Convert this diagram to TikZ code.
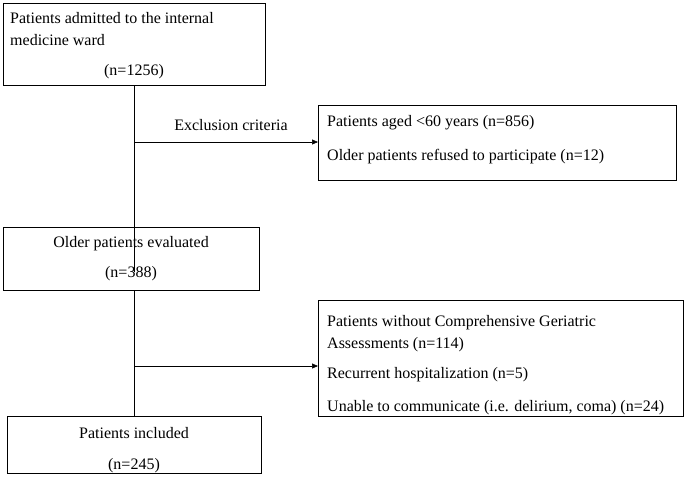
\documentclass[tikz,border=0pt]{standalone}
\usepackage{fontspec}
\setmainfont{Liberation Serif}
\usetikzlibrary{arrows.meta}
\begin{document}
\begin{tikzpicture}[x=1pt,y=-1pt,
  box/.style={draw,line width=0.6pt},
  txt/.style={font=\fontsize{16}{19}\selectfont,inner sep=0pt,anchor=base},
  ltxt/.style={txt,anchor=base west},
  arr/.style={-{Triangle[length=6pt,width=5pt]},line width=0.6pt}]
\useasboundingbox (0,0) rectangle (685,477);
\draw[box] (3,3) rectangle (265,85);
\node[ltxt] (a1) at (10,23) {Patients admitted to the internal};
\node[ltxt] (a2) at (10,45) {medicine ward};
\node[txt] (a3) at (134,75) {(n=1256)};
\coordinate (top1) at (134.5,85);
\coordinate (mid1) at (134.5,272);
\coordinate (j1) at (134.5,142);
\draw[line width=0.6pt] (top1) -- (mid1);
\draw[box] (318,105) rectangle (676,180);
\coordinate (e1) at (318,142);
\draw[arr] (j1) -- (e1);
\node[txt] (ex) at (231,130) {Exclusion criteria};
\node[ltxt] (b1) at (327,126) {Patients aged <60 years (n=856)};
\node[ltxt] (b2) at (327,160) {Older patients refused to participate (n=12)};
\draw[box] (3,227) rectangle (259,290);
\node[txt] (c1) at (131,247) {Older patients evaluated};
\node[txt] (c2) at (131,277) {(n=388)};
\coordinate (bot2) at (134.5,290);
\coordinate (top3) at (134.5,416);
\coordinate (j2) at (134.5,366);
\draw[line width=0.6pt] (bot2) -- (top3);
\draw[box] (318,300) rectangle (683,416);
\coordinate (e2) at (318,366);
\draw[arr] (j2) -- (e2);
\node[ltxt] (d1) at (327,326) {Patients without Comprehensive Geriatric};
\node[ltxt] (d2) at (327,348) {Assessments (n=114)};
\node[ltxt] (d3) at (327,378) {Recurrent hospitalization (n=5)};
\node[ltxt] (d4) at (327,411) {Unable to communicate (i.e. delirium, coma) (n=24)};
\draw[box] (7,416) rectangle (261,473);
\node[txt] (f1) at (134,438) {Patients included};
\node[txt] (f2) at (134,469) {(n=245)};
\end{tikzpicture}
\end{document}
